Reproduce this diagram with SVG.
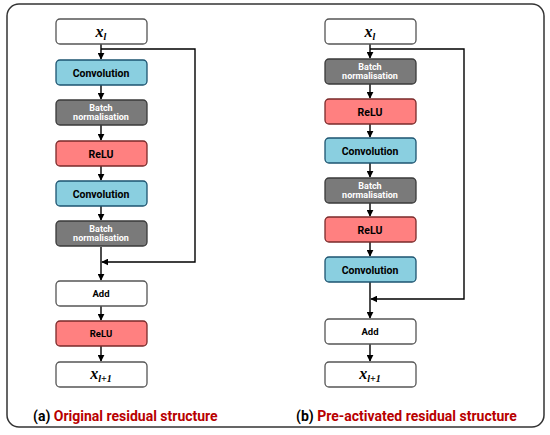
<svg xmlns="http://www.w3.org/2000/svg" width="550" height="435" viewBox="0 0 550 435">
<defs>
<marker id="ah" viewBox="0 0 10 10" refX="9" refY="5" markerWidth="7" markerHeight="7" markerUnits="userSpaceOnUse" orient="auto">
<path d="M0,0 L10,5 L0,10 z" fill="#000"/>
</marker>
</defs>
<style>
.box{stroke-width:1.3}
.w{fill:#fff;stroke:#555}
.c{fill:#8acfe0;stroke:#1d5470}
.b{fill:#7a7a7a;stroke:#3a3a3a}
.r{fill:#ff8080;stroke:#7a2a2a}
.t{font-family:Roboto,"Liberation Sans",sans-serif;font-weight:700;text-anchor:middle}
.tc{font-size:10.5px;fill:#000}
.tb{font-size:9px;fill:#fff}
.ta{font-size:9.5px;fill:#000}
.tx{font-family:"Liberation Serif","Times New Roman",serif;font-style:italic;font-weight:700;font-size:16px;text-anchor:middle;fill:#000}
.sub{font-size:10px}
.ln{fill:none;stroke:#000;stroke-width:1.4}
.cap{font-family:Roboto,"Liberation Sans",sans-serif;font-weight:700;font-size:14px}
</style>
<rect x="7" y="4" width="537" height="423" rx="12" fill="#fff" stroke="#333" stroke-width="1.5"/>
<g id="connectors">
<path class="ln" d="M101,44 V59" marker-end="url(#ah)"/>
<path class="ln" d="M101,85 V99" marker-end="url(#ah)"/>
<path class="ln" d="M101,125 V140" marker-end="url(#ah)"/>
<path class="ln" d="M101,166 V180" marker-end="url(#ah)"/>
<path class="ln" d="M101,206 V220" marker-end="url(#ah)"/>
<path class="ln" d="M101,247 V280" marker-end="url(#ah)"/>
<path class="ln" d="M101,306 V320" marker-end="url(#ah)"/>
<path class="ln" d="M101,346 V361" marker-end="url(#ah)"/>
<path class="ln" d="M101,49 H195 V262 H102" marker-end="url(#ah)"/>
<path class="ln" d="M370,44 V58" marker-end="url(#ah)"/>
<path class="ln" d="M370,84 V98" marker-end="url(#ah)"/>
<path class="ln" d="M370,124 V137" marker-end="url(#ah)"/>
<path class="ln" d="M370,163 V177" marker-end="url(#ah)"/>
<path class="ln" d="M370,203 V216" marker-end="url(#ah)"/>
<path class="ln" d="M370,242 V256" marker-end="url(#ah)"/>
<path class="ln" d="M370,282 V318" marker-end="url(#ah)"/>
<path class="ln" d="M370,344 V361" marker-end="url(#ah)"/>
<path class="ln" d="M370,49 H464 V299 H371" marker-end="url(#ah)"/>
</g>
<g id="a-xl"><rect class="box w" x="56" y="19" width="91" height="25" rx="4"/><text class="tx" x="101" y="37">x<tspan class="sub" dy="3">l</tspan></text></g>
<g id="a-conv1"><rect class="box c" x="56" y="60" width="91" height="25" rx="4"/><text class="t tc" x="101" y="76.5">Convolution</text></g>
<g id="a-bn1"><rect class="box b" x="56" y="100" width="91" height="25" rx="4"/><text class="t tb" x="101" y="110.5">Batch</text><text class="t tb" x="101" y="120">normalisation</text></g>
<g id="a-relu1"><rect class="box r" x="56" y="141" width="91" height="25" rx="4"/><text class="t tc" x="101" y="157.5">ReLU</text></g>
<g id="a-conv2"><rect class="box c" x="56" y="181" width="91" height="25" rx="4"/><text class="t tc" x="101" y="197.5">Convolution</text></g>
<g id="a-bn2"><rect class="box b" x="56" y="221" width="91" height="25" rx="4"/><text class="t tb" x="101" y="231.5">Batch</text><text class="t tb" x="101" y="241">normalisation</text></g>
<g id="a-add"><rect class="box w" x="56" y="281" width="91" height="25" rx="4"/><text class="t ta" x="101" y="297">Add</text></g>
<g id="a-relu2"><rect class="box r" x="56" y="321" width="91" height="25" rx="4"/><text class="t ta" x="101" y="337">ReLU</text></g>
<g id="a-xl1"><rect class="box w" x="56" y="362" width="91" height="25" rx="4"/><text class="tx" x="101" y="379">x<tspan class="sub" dy="3">l+1</tspan></text></g>
<g id="b-xl"><rect class="box w" x="325" y="19" width="91" height="25" rx="4"/><text class="tx" x="370" y="37">x<tspan class="sub" dy="3">l</tspan></text></g>
<g id="b-bn1"><rect class="box b" x="325" y="59" width="91" height="25" rx="4"/><text class="t tb" x="370" y="69.5">Batch</text><text class="t tb" x="370" y="79">normalisation</text></g>
<g id="b-relu1"><rect class="box r" x="325" y="99" width="91" height="25" rx="4"/><text class="t tc" x="370" y="115.5">ReLU</text></g>
<g id="b-conv1"><rect class="box c" x="325" y="138" width="91" height="25" rx="4"/><text class="t tc" x="370" y="154.5">Convolution</text></g>
<g id="b-bn2"><rect class="box b" x="325" y="178" width="91" height="25" rx="4"/><text class="t tb" x="370" y="188.5">Batch</text><text class="t tb" x="370" y="198">normalisation</text></g>
<g id="b-relu2"><rect class="box r" x="325" y="217" width="91" height="25" rx="4"/><text class="t tc" x="370" y="233.5">ReLU</text></g>
<g id="b-conv2"><rect class="box c" x="325" y="257" width="91" height="25" rx="4"/><text class="t tc" x="370" y="273.5">Convolution</text></g>
<g id="b-add"><rect class="box w" x="325" y="319" width="91" height="25" rx="4"/><text class="t ta" x="370" y="335">Add</text></g>
<g id="b-xl1"><rect class="box w" x="325" y="362" width="91" height="25" rx="4"/><text class="tx" x="370" y="379">x<tspan class="sub" dy="3">l+1</tspan></text></g>
<text class="cap" x="33" y="421"><tspan fill="#000">(a) </tspan><tspan fill="#b80000">Original residual structure</tspan></text>
<text class="cap" x="296" y="421"><tspan fill="#000">(b) </tspan><tspan fill="#b80000">Pre-activated residual structure</tspan></text>
</svg>
